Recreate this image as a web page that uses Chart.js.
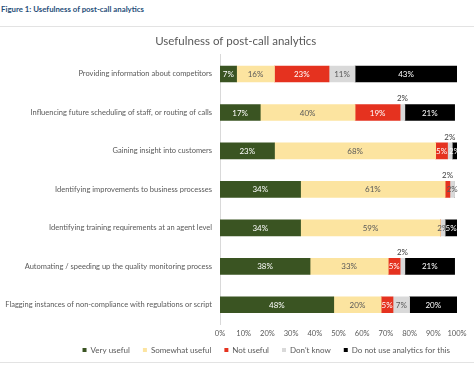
<!DOCTYPE html>
<html>
<head>
<meta charset="utf-8">
<script src="https://cdn.jsdelivr.net/npm/chart.js@4.4.1/dist/chart.umd.min.js"></script>
<style>
  body { margin: 0; background: #fff; width: 474px; height: 366px; overflow: hidden; position: relative; }
  .caption { position: absolute; left: 1px; top: 4px; font: bold 7.8px Lato, sans-serif; color: #1f4e79; }
  .rule { position: absolute; left: 0; width: 474px; border-top: 1px solid #e3e3e3; }
  #wrap { position: absolute; left: 0; top: 27px; width: 474px; height: 337px; }
</style>
</head>
<body>
<div class="caption">Figure 1: Usefulness of post-call analytics</div>
<div class="rule" style="top:26px"></div>
<div id="wrap"><canvas id="chart"></canvas></div>
<div class="rule" style="top:362px"></div>
<script>
const categories = [
  'Providing information about competitors',
  'Influencing future scheduling of staff, or routing of calls',
  'Gaining insight into customers',
  'Identifying improvements to business processes',
  'Identifying training requirements at an agent level',
  'Automating / speeding up the quality monitoring process',
  'Flagging instances of non-compliance with regulations or script'
];
const veryUseful     = [7, 17, 23, 34, 34, 38, 48];
const somewhatUseful = [16, 40, 68, 61, 59, 33, 20];
const notUseful      = [23, 19, 5, 2, 0, 5, 5];
const dontKnow       = [11, 2, 2, 2, 2, 2, 7];
const doNotUse       = [43, 21, 2, 0, 5, 21, 20];
const xTicks = ['0%','10%','20%','30%','40%','50%','60%','70%','80%','90%','100%'];

// which small segments have their label written above the bar (row indexes)
const aboveNotUseful = [3];
const aboveDontKnow = [1, 2, 5];

const FONT = 'Lato, sans-serif';

const series = [
  { label: 'Very useful', data: veryUseful, color: '#3a5422', text: '#ffffff', above: [] },
  { label: 'Somewhat useful', data: somewhatUseful, color: '#fce4a0', text: '#595959', above: [] },
  { label: 'Not useful', data: notUseful, color: '#e5321f', text: '#ffffff', above: aboveNotUseful },
  { label: "Don't know", data: dontKnow, color: '#d9d9d9', text: '#595959', above: aboveDontKnow },
  { label: 'Do not use analytics for this', data: doNotUse, color: '#000000', text: '#ffffff', above: [] }
];

const barLabels = {
  id: 'barLabels',
  afterDatasetsDraw(chart) {
    const ctx = chart.ctx;
    ctx.save();
    ctx.font = '8px ' + FONT;
    ctx.textAlign = 'center';
    ctx.textBaseline = 'middle';
    chart.data.datasets.forEach((ds, di) => {
      const meta = chart.getDatasetMeta(di);
      const s = series[di];
      meta.data.forEach((bar, i) => {
        const v = ds.data[i];
        if (!v) return;
        const x = (bar.x + bar.base) / 2;
        if (s.above.includes(i)) {
          ctx.fillStyle = '#404040';
          ctx.fillText(v + '%', x, bar.y - bar.height / 2 - 6);
        } else {
          ctx.fillStyle = s.text;
          ctx.fillText(v + '%', x, bar.y + 0.5);
        }
      });
    });
    ctx.restore();
  }
};

new Chart(document.getElementById('chart'), {
  type: 'bar',
  data: {
    labels: categories,
    datasets: series.map(s => ({
      label: s.label,
      data: s.data,
      backgroundColor: s.color,
      borderWidth: 0,
      barThickness: 16
    }))
  },
  options: {
    indexAxis: 'y',
    responsive: true,
    maintainAspectRatio: false,
    animation: false,
    layout: { padding: { left: 0, right: 17, top: 0, bottom: 0 } },
    plugins: {
      title: {
        display: true,
        // leading spaces nudge the centred title to the middle of the page
        text: '\u2003\u2002Usefulness of post-call analytics',
        color: '#595959',
        font: { family: FONT, size: 11.5, weight: 'normal' },
        padding: { top: 7, bottom: 7 }
      },
      legend: {
        position: 'bottom',
        align: 'end',
        labels: {
          color: '#595959',
          font: { family: FONT, size: 8 },
          boxWidth: 4,
          boxHeight: 4,
          padding: 3,
          // extra spacing between legend entries
          generateLabels: (chart) => {
            const items = Chart.defaults.plugins.legend.labels.generateLabels(chart);
            items.forEach((it, i) => { it.text += (i < items.length - 1) ? '\u2003\u2002' : '\u2002'; });
            return items;
          }
        }
      },
      tooltip: { enabled: false }
    },
    scales: {
      x: {
        stacked: true,
        min: 0,
        max: 100,
        grid: { display: false, drawTicks: false },
        border: { display: false },
        ticks: {
          stepSize: 10,
          maxRotation: 0,
          autoSkip: false,
          padding: 5,
          color: '#595959',
          font: { family: FONT, size: 7.5 },
          callback: (v, i) => xTicks[i]
        }
      },
      y: {
        stacked: true,
        grid: { display: false, drawTicks: false },
        border: { display: true, color: '#d9d9d9' },
        ticks: { color: '#595959', font: { family: FONT, size: 7.5 }, padding: 8 },
        afterFit: (scale) => { scale.width = 220; }
      }
    }
  },
  plugins: [barLabels]
});
</script>
</body>
</html>
